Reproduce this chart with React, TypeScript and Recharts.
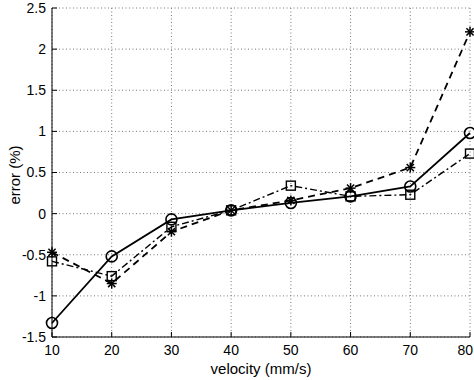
import React from "react";
import {
  LineChart,
  Line,
  XAxis,
  YAxis,
  CartesianGrid,
  Label,
} from "recharts";

const velocity = [10, 20, 30, 40, 50, 60, 70, 80];
const solidErr = [-1.33, -0.52, -0.07, 0.04, 0.13, 0.21, 0.33, 0.98];
const dashedErr = [-0.47, -0.85, -0.22, 0.04, 0.16, 0.31, 0.56, 2.21];
const dashDotErr = [-0.58, -0.76, -0.16, 0.04, 0.34, 0.21, 0.23, 0.73];

const xTicks = [10, 20, 30, 40, 50, 60, 70, 80];
const yTicks = [-1.5, -1, -0.5, 0, 0.5, 1, 1.5, 2, 2.5];

const data = velocity.map((v, i) => ({
  v,
  solid: solidErr[i],
  dashed: dashedErr[i],
  dashdot: dashDotErr[i],
}));

const FONT = "'Liberation Sans', Arial, Helvetica, sans-serif";

// open circle marker
const CircleDot = (props: any) => {
  const { cx, cy } = props;
  if (cx == null || cy == null) return null;
  return <circle cx={cx} cy={cy} r={5.5} fill="none" stroke="#000" strokeWidth={1.6} />;
};

// open square marker
const SquareDot = (props: any) => {
  const { cx, cy } = props;
  if (cx == null || cy == null) return null;
  return (
    <rect x={cx - 4.5} y={cy - 4.5} width={9} height={9} fill="none" stroke="#000" strokeWidth={1.4} />
  );
};

// asterisk marker
const StarDot = (props: any) => {
  const { cx, cy } = props;
  if (cx == null || cy == null) return null;
  const r = 5;
  const d = r * 0.72;
  return (
    <g stroke="#000" strokeWidth={1.5}>
      <line x1={cx - r} y1={cy} x2={cx + r} y2={cy} />
      <line x1={cx} y1={cy - r} x2={cx} y2={cy + r} />
      <line x1={cx - d} y1={cy - d} x2={cx + d} y2={cy + d} />
      <line x1={cx - d} y1={cy + d} x2={cx + d} y2={cy - d} />
    </g>
  );
};

const tickStyle = { fill: "#000", fontSize: 14, fontFamily: FONT };

// x tick: keep the last label inside the page
const XTick = (props: any) => {
  const { x, y, payload } = props;
  const last = payload.value === xTicks[xTicks.length - 1];
  return (
    <text
      x={last ? 473 : x}
      y={y}
      dy="0.71em"
      textAnchor={last ? "end" : "middle"}
      fontSize={14}
      fontFamily={FONT}
      fill="#000"
    >
      {payload.value}
    </text>
  );
};

export default function App() {
  return (
    <div style={{ position: "absolute", left: 0, top: 0, background: "#fff" }}>
      <LineChart
        width={474}
        height={380}
        data={data}
        margin={{ top: 8, right: 4, bottom: 0, left: 0 }}
      >
        <CartesianGrid stroke="#777" strokeDasharray="1 2.5" strokeWidth={1} />
        <XAxis
          dataKey="v"
          type="number"
          domain={[10, 80]}
          ticks={xTicks}
          height={43}
          stroke="#000"
          tickSize={-5}
          tickMargin={13}
          tick={<XTick />}
          interval={0}
        >
          <Label
            content={() => (
              <text x={261} y={368} textAnchor="middle" dominantBaseline="central" fontSize={15} fontFamily={FONT} fill="#000">
                velocity (mm/s)
              </text>
            )}
          />
        </XAxis>
        <XAxis
          xAxisId="top"
          dataKey="v"
          type="number"
          orientation="top"
          domain={[10, 80]}
          ticks={xTicks}
          height={0}
          stroke="#000"
          tickSize={-5}
          tickFormatter={() => ""}
        />
        <YAxis
          type="number"
          domain={[-1.5, 2.5]}
          ticks={yTicks}
          width={52}
          stroke="#000"
          tickSize={-5}
          tickMargin={11}
          tick={tickStyle}
          interval={0}
        >
          <Label
            content={() => (
              <text x={14} y={175} transform="rotate(-90 14 175)" textAnchor="middle" dominantBaseline="central" fontSize={15} fontFamily={FONT} fill="#000">
                error (%)
              </text>
            )}
          />
        </YAxis>
        <YAxis
          yAxisId="right"
          type="number"
          orientation="right"
          domain={[-1.5, 2.5]}
          ticks={yTicks}
          width={0}
          stroke="#000"
          tickSize={-5}
          tickFormatter={() => ""}
        />
        <Line
          dataKey="dashed"
          stroke="#000"
          strokeWidth={1.8}
          strokeDasharray="7 5"
          dot={<StarDot />}
          activeDot={false}
          isAnimationActive={false}
        />
        <Line
          dataKey="dashdot"
          stroke="#000"
          strokeWidth={1.4}
          strokeDasharray="7 3 2 3"
          dot={<SquareDot />}
          activeDot={false}
          isAnimationActive={false}
        />
        <Line
          dataKey="solid"
          stroke="#000"
          strokeWidth={1.8}
          dot={<CircleDot />}
          activeDot={false}
          isAnimationActive={false}
        />
      </LineChart>
    </div>
  );
}
